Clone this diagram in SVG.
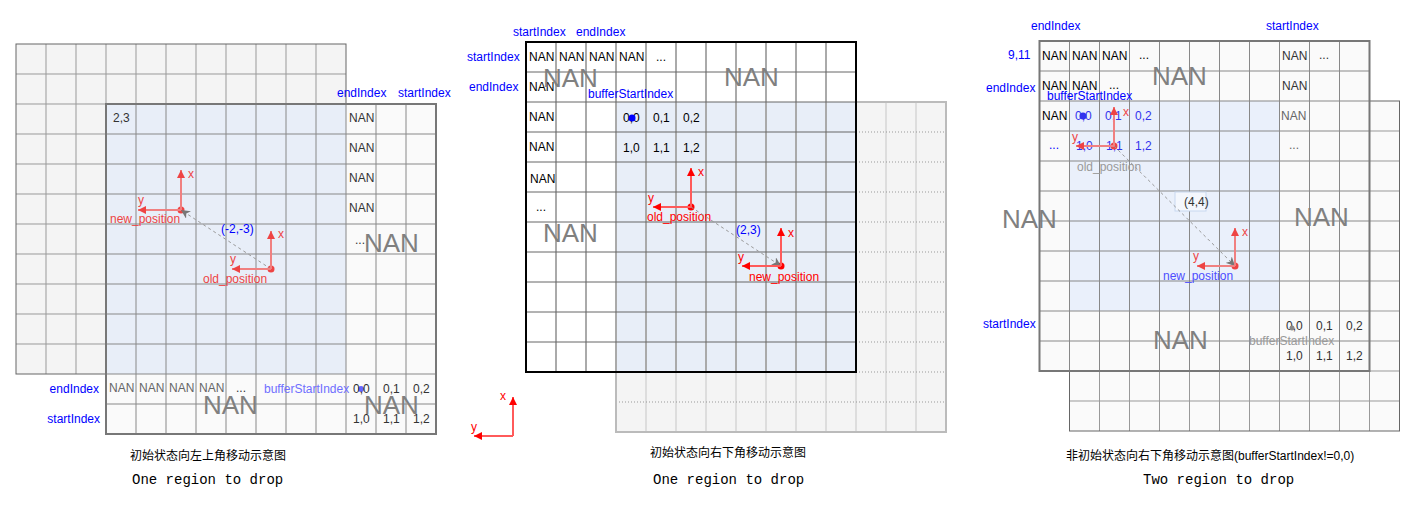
<svg xmlns="http://www.w3.org/2000/svg" width="1415" height="511" viewBox="0 0 1415 511">
<style>
text{font-family:"Liberation Sans",Arial,sans-serif;font-size:12px;}
.blue{fill:#0000ff;}
.lb{fill:#6f6fff;}
.dk{fill:#333;}
.bk{fill:#000;}
.md{fill:#666;}
.gr{fill:#999;}
.big{font-size:26px;fill:#808080;}
.r1{fill:#ee4444;}
.r2{fill:#ff0000;}
.cap{font-family:"Liberation Sans","Noto Sans CJK SC",sans-serif;font-size:12px;fill:#000;}
.mono{font-family:"Liberation Mono","DejaVu Sans Mono",monospace;font-size:14px;fill:#000;}
.ax1{stroke:#f08080;stroke-width:2;fill:none;marker-end:url(#ar1);}
.ax2{stroke:#ff5a5a;stroke-width:2;fill:none;marker-end:url(#ar2);}
.dash{stroke:#999;stroke-width:1;stroke-dasharray:3 3;fill:none;marker-end:url(#ag);}
</style>
<defs>
<marker id="ar1" viewBox="0 0 10 10" refX="10" refY="5" markerWidth="8" markerHeight="8" markerUnits="userSpaceOnUse" orient="auto"><path d="M0,0L10,5L0,10z" fill="#ee4444"/></marker>
<marker id="ar2" viewBox="0 0 10 10" refX="10" refY="5" markerWidth="8" markerHeight="8" markerUnits="userSpaceOnUse" orient="auto"><path d="M0,0L10,5L0,10z" fill="#ff0000"/></marker>
<marker id="ag" viewBox="0 0 10 10" refX="10" refY="5" markerWidth="9" markerHeight="9" markerUnits="userSpaceOnUse" orient="auto"><path d="M0,0L10,5L0,10L3,5z" fill="#777"/></marker>
</defs>
<rect width="1415" height="511" fill="#fff"/>

<!-- Panel 1 -->
<g id="p1-back-grid">
<rect x="16" y="44" width="330" height="330" fill="#f4f4f4"/>
<path d="M46 44V374M76 44V374M106 44V374M136 44V374M166 44V374M196 44V374M226 44V374M256 44V374M286 44V374M316 44V374M16 74H346M16 104H346M16 134H346M16 164H346M16 194H346M16 224H346M16 254H346M16 284H346M16 314H346M16 344H346" stroke="#999" fill="none"/>
<rect x="16" y="44" width="330" height="330" fill="none" stroke="#666"/>
</g>
<g id="p1-front-grid">
<rect x="106" y="104" width="330" height="330" fill="#fafafa"/>
<rect x="106" y="104" width="240" height="270" fill="#e8eef8"/>
<path d="M136 104V434M166 104V434M196 104V434M226 104V434M256 104V434M286 104V434M316 104V434M346 104V434M376 104V434M406 104V434M106 134H436M106 164H436M106 194H436M106 224H436M106 254H436M106 284H436M106 314H436M106 344H436M106 374H436M106 404H436" stroke="#888" fill="none"/>
<rect x="106" y="104" width="330" height="330" fill="none" stroke="#777" stroke-width="2"/>
</g>
<g id="p1-labels">
<text x="113" y="122" class="dk">2,3</text>
<text x="337" y="97" class="blue">endIndex</text>
<text x="398" y="97" class="blue">startIndex</text>
<text x="349" y="122" class="dk">NAN</text>
<text x="349" y="152" class="dk">NAN</text>
<text x="349" y="182" class="dk">NAN</text>
<text x="349" y="212" class="dk">NAN</text>
<text x="355" y="244" class="dk">...</text>
<text x="364" y="252" class="big">NAN</text>
<text x="109" y="392" class="md">NAN</text>
<text x="139" y="392" class="md">NAN</text>
<text x="169" y="392" class="md">NAN</text>
<text x="199" y="392" class="md">NAN</text>
<text x="241" y="392" class="dk" text-anchor="middle">...</text>
<text x="264" y="393" class="lb">bufferStartIndex</text>
<circle cx="361" cy="389" r="3" fill="#6666ff"/>
<text x="353" y="393" class="dk">0,0</text>
<text x="383" y="393" class="dk">0,1</text>
<text x="413" y="393" class="dk">0,2</text>
<text x="353" y="423" class="dk">1,0</text>
<text x="383" y="423" class="dk">1,1</text>
<text x="413" y="423" class="dk">1,2</text>
<text x="203" y="414" class="big">NAN</text>
<text x="364" y="414" class="big">NAN</text>
<text x="99" y="393" class="blue" text-anchor="end">endIndex</text>
<text x="100" y="423" class="blue" text-anchor="end">startIndex</text>
<text x="221" y="233" class="blue">(-2,-3)</text>
</g>
<g id="p1-new-position">
<circle cx="181" cy="210" r="3.5" fill="#ee4444"/>
<text x="188" y="178" class="r1">x</text>
<text x="138" y="204" class="r1">y</text>
<text x="110" y="223" class="r1">new_position</text>
</g>
<g id="p1-old-position">
<circle cx="271" cy="269" r="3.5" fill="#ee4444"/>
<text x="278" y="238" class="r1">x</text>
<text x="230" y="263" class="r1">y</text>
<text x="203" y="283" class="r1">old_position</text>
</g>
<g id="p1-captions">
<text x="130" y="460" class="cap">初始状态向左上角移动示意图</text>
<text x="132" y="484" class="mono">One region to drop</text>
</g>

<!-- Panel 2 -->
<g id="p2-back-grid">
<rect x="616" y="102" width="330" height="330" fill="#f4f4f4"/>
<path d="M646 102V432M676 102V432M706 102V432M736 102V432M766 102V432M796 102V432M826 102V432M856 102V432M886 102V432M916 102V432" stroke="#ddd" stroke-width="2" fill="none"/>
<path d="M616 132H946M616 162H946M616 192H946M616 222H946M616 252H946M616 282H946M616 312H946M616 342H946M616 372H946M616 402H946" stroke="#999" stroke-dasharray="1 2" fill="none"/>
<rect x="616" y="102" width="330" height="330" fill="none" stroke="#bbb" stroke-width="2"/>
</g>
<g id="p2-front-grid">
<rect x="526" y="42" width="330" height="330" fill="#fff"/>
<rect x="616" y="102" width="240" height="270" fill="#e8eef8"/>
<path d="M556 42V372M586 42V372M616 42V372M646 42V372M676 42V372M706 42V372M736 42V372M766 42V372M796 42V372M826 42V372" stroke="#aaa" stroke-width="2" fill="none"/>
<path d="M526 72H856M526 102H856M526 132H856M526 162H856M526 192H856M526 222H856M526 252H856M526 282H856M526 312H856M526 342H856" stroke="#666" fill="none"/>
<rect x="526" y="42" width="330" height="330" fill="none" stroke="#000" stroke-width="2"/>
</g>
<g id="p2-labels">
<text x="513" y="36" class="blue">startIndex</text>
<text x="576" y="36" class="blue">endIndex</text>
<text x="467" y="61" class="blue">startIndex</text>
<text x="469" y="91" class="blue">endIndex</text>
<text x="529" y="61" class="bk">NAN</text>
<text x="559" y="61" class="bk">NAN</text>
<text x="589" y="61" class="bk">NAN</text>
<text x="619" y="61" class="bk">NAN</text>
<text x="661" y="61" class="bk" text-anchor="middle">...</text>
<text x="529" y="91" class="bk">NAN</text>
<text x="529" y="121" class="bk">NAN</text>
<text x="529" y="151" class="bk">NAN</text>
<text x="530" y="183" class="bk">NAN</text>
<text x="541" y="211" class="bk" text-anchor="middle">...</text>
<text x="543" y="87" class="big">NAN</text>
<text x="724" y="86" class="big">NAN</text>
<text x="543" y="242" class="big">NAN</text>
<text x="588" y="98" class="blue">bufferStartIndex</text>
<text x="623" y="122" class="bk">0,0</text>
<circle cx="632" cy="118" r="3.5" fill="#0000ff"/>
<text x="653" y="122" class="bk">0,1</text>
<text x="683" y="122" class="bk">0,2</text>
<text x="623" y="152" class="bk">1,0</text>
<text x="653" y="152" class="bk">1,1</text>
<text x="683" y="152" class="bk">1,2</text>
<text x="736" y="234" class="blue">(2,3)</text>
</g>
<g id="p2-old-position">
<circle cx="691" cy="207" r="3.5" fill="#ff0000"/>
<text x="698" y="176" class="r2">x</text>
<text x="648" y="202" class="r2">y</text>
<text x="647" y="221" class="r2">old_position</text>
</g>
<g id="p2-new-position">
<circle cx="781" cy="266" r="3.5" fill="#ff0000"/>
<text x="788" y="237" class="r2">x</text>
<text x="738" y="261" class="r2">y</text>
<text x="749" y="281" class="r2">new_position</text>
</g>
<g id="p2-axis-legend">
<text x="500" y="400" class="r2">x</text>
<text x="471" y="431" class="r2">y</text>
</g>
<g id="p2-captions">
<text x="650" y="457" class="cap">初始状态向右下角移动示意图</text>
<text x="653" y="484" class="mono">One region to drop</text>
</g>

<!-- Panel 3 -->
<g id="p3-back-grid">
<rect x="1069.5" y="101" width="330" height="330" fill="#fafafa"/>
<path d="M1099.5 101V431M1129.5 101V431M1159.5 101V431M1189.5 101V431M1219.5 101V431M1249.5 101V431M1279.5 101V431M1309.5 101V431M1339.5 101V431M1369.5 101V431M1069.5 131H1399.5M1069.5 161H1399.5M1069.5 191H1399.5M1069.5 221H1399.5M1069.5 251H1399.5M1069.5 281H1399.5M1069.5 311H1399.5M1069.5 341H1399.5M1069.5 371H1399.5M1069.5 401H1399.5" stroke="#999" fill="none"/>
<rect x="1069.5" y="101" width="330" height="330" fill="none" stroke="#666"/>
</g>
<g id="p3-front-grid">
<rect x="1039.5" y="41" width="330" height="330" fill="#fafafa"/>
<rect x="1069.5" y="101" width="210" height="210" fill="#eaf0fb"/>
<path d="M1069.5 41V371M1099.5 41V371M1129.5 41V371M1159.5 41V371M1189.5 41V371M1219.5 41V371M1249.5 41V371M1279.5 41V371M1309.5 41V371M1339.5 41V371M1039.5 71H1369.5M1039.5 101H1369.5M1039.5 131H1369.5M1039.5 161H1369.5M1039.5 191H1369.5M1039.5 221H1369.5M1039.5 251H1369.5M1039.5 281H1369.5M1039.5 311H1369.5M1039.5 341H1369.5" stroke="#888" fill="none"/>
<rect x="1039.5" y="41" width="330" height="330" fill="none" stroke="#777" stroke-width="2"/>
</g>
<g id="p3-labels">
<text x="1031" y="30" class="blue">endIndex</text>
<text x="1266" y="30" class="blue">startIndex</text>
<text x="1008" y="59" class="blue">9,11</text>
<text x="986" y="92" class="blue">endIndex</text>
<text x="983" y="328" class="blue">startIndex</text>
<text x="1042" y="60" class="bk">NAN</text>
<text x="1072" y="60" class="bk">NAN</text>
<text x="1102" y="60" class="bk">NAN</text>
<text x="1144" y="59" class="bk" text-anchor="middle">...</text>
<text x="1282" y="60" class="dk">NAN</text>
<text x="1324" y="59" class="dk" text-anchor="middle">...</text>
<text x="1042" y="90" class="bk">NAN</text>
<text x="1072" y="90" class="bk">NAN</text>
<text x="1114" y="89" class="bk" text-anchor="middle">...</text>
<text x="1282" y="90" class="dk">NAN</text>
<text x="1042" y="120" class="bk">NAN</text>
<text x="1281" y="120" class="md">NAN</text>
<text x="1054" y="149" class="blue" text-anchor="middle">...</text>
<text x="1294" y="149" class="md" text-anchor="middle">...</text>
<text x="1152" y="85" class="big">NAN</text>
<text x="1002" y="228" class="big">NAN</text>
<text x="1294" y="226" class="big">NAN</text>
<text x="1153" y="349" class="big">NAN</text>
<text x="1047" y="100" class="blue">bufferStartIndex</text>
<text x="1075" y="120" fill="#3333ee">0,0</text>
<circle cx="1083" cy="116" r="3.5" fill="#3333ee"/>
<text x="1105" y="120" fill="#3333ee">0,1</text>
<text x="1135" y="120" fill="#3333ee">0,2</text>
<text x="1076" y="150" fill="#3333ee">1,0</text>
<text x="1106" y="150" fill="#3333ee">1,1</text>
<text x="1135" y="150" fill="#3333ee">1,2</text>
<text x="1286" y="330" class="dk">0,0</text>
<text x="1316" y="330" class="dk">0,1</text>
<text x="1346" y="330" class="dk">0,2</text>
<text x="1286" y="360" class="dk">1,0</text>
<text x="1316" y="360" class="dk">1,1</text>
<text x="1346" y="360" class="dk">1,2</text>
<circle cx="1292" cy="328" r="2.5" fill="#888"/>
<text x="1249" y="345" class="gr">bufferStartIndex</text>
</g>
<g id="p3-distance-label">
<rect x="1175" y="192" width="31" height="19" fill="#f4f7fd" stroke="#c8d8f0"/>
<text x="1184" y="206" class="dk">(4,4)</text>
</g>
<g id="p3-old-position">
<circle cx="1114" cy="146" r="3.5" fill="#ee4444"/>
<text x="1123" y="116" class="r1">x</text>
<text x="1072" y="141" class="r1">y</text>
<text x="1077" y="171" class="gr">old_position</text>
</g>
<g id="p3-new-position">
<circle cx="1235" cy="266" r="3.5" fill="#ee4444"/>
<text x="1242" y="236" class="r1">x</text>
<text x="1193" y="260" class="r1">y</text>
<text x="1163" y="280" fill="#4d4dff">new_position</text>
</g>
<g id="p3-captions">
<text x="1066" y="460" class="cap">非初始状态向右下角移动示意图(bufferStartIndex!=0,0)</text>
<text x="1143" y="484" class="mono">Two region to drop</text>
</g>

<g id="connectors">
<path class="dash" d="M271 269L181 210"/>
<path class="ax1" d="M181 210V170"/>
<path class="ax1" d="M181 210H138"/>
<path class="ax1" d="M271 269V231"/>
<path class="ax1" d="M271 269H232"/>
<path class="dash" d="M691 207L781 266"/>
<path class="ax2" d="M691 207V168"/>
<path class="ax2" d="M691 207H653"/>
<path class="ax2" d="M781 266V228"/>
<path class="ax2" d="M781 266H742"/>
<path class="ax2" d="M513 436V397"/>
<path class="ax2" d="M513 436H474"/>
<path class="dash" d="M1114 146L1235 266"/>
<path class="ax1" d="M1114 146V107"/>
<path class="ax1" d="M1114 146H1076"/>
<path class="ax1" d="M1235 266V228"/>
<path class="ax1" d="M1235 266H1197"/>
</g>
</svg>
